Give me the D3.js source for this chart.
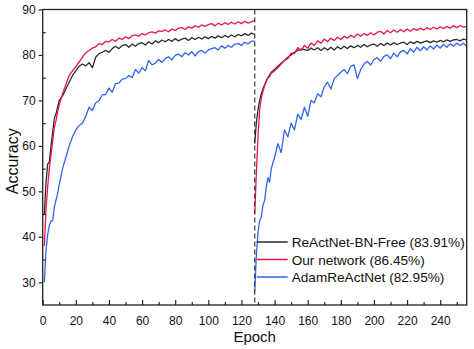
<!DOCTYPE html>
<html>
<head>
<meta charset="utf-8">
<script src="https://cdn.jsdelivr.net/npm/d3@7"></script>
<style>
  body { margin: 0; background: #fff; }
  text { font-family: "Liberation Sans", Arial, sans-serif; fill: #111; }
</style>
</head>
<body>
<div id="chart"></div>
<script>
// --------------------
// DATA
// --------------------
const epochsA = [1, 2, 3, 4, 5, 6, 7, 8, 9, 10,
  12, 14, 16, 18, 20, 22, 24, 26, 28, 30,
  32, 34, 36, 38, 40, 42, 44, 46, 48, 50,
  52, 54, 56, 58, 60, 62, 64, 66, 68, 70,
  72, 74, 76, 78, 80, 82, 84, 86, 88, 90,
  92, 94, 96, 98, 100, 102, 104, 106, 108, 110,
  112, 114, 116, 118, 120, 122, 124, 126, 128];

const epochsB = [128, 129, 130, 131, 132, 133, 134, 135, 136, 137, 138,
  140, 142, 144, 146, 148, 150, 152, 154, 156, 158,
  160, 162, 164, 166, 168, 170, 172, 174, 176, 178,
  180, 182, 184, 186, 188, 190, 192, 194, 196, 198,
  200, 202, 204, 206, 208, 210, 212, 214, 216, 218,
  220, 222, 224, 226, 228, 230, 232, 234, 236, 238,
  240, 242, 244, 246, 248, 250, 252, 254, 256];

// ReActNet-BN-Free
const bnFreeA = [45, 52, 56, 56.5, 60, 63, 66, 67, 68.5, 70,
  71, 72.5, 74, 75.5, 76.5, 77.5, 78, 77.6, 78.3, 77.2,
  79.5, 80.3, 80.6, 81, 80.6, 81.4, 81.9, 81.4, 82.1, 82.3,
  81.7, 82.4, 81.9, 82.5, 82.7, 82.2, 82.9, 82.4, 83.1, 82.7,
  83.3, 82.9, 83.4, 83, 83.6, 83.1, 83.5, 83.7, 83.2, 83.8,
  83.4, 83.9, 83.5, 84, 83.6, 84.1, 83.7, 84.2, 83.8, 84.3,
  83.9, 84.4, 84, 84.5, 84.2, 84.7, 84.3, 84.8, 84.5];
const bnFreeB = [60.5, 65, 68, 70, 71.5, 72.5, 73.5, 74.3, 75, 75.6, 76.2,
  76.8, 77.5, 78.2, 78.8, 79.5, 80, 80.6, 81, 81.3, 81.2,
  81, 81.5, 81.1, 81.6, 81, 81.6, 81.1, 81.7, 81.1, 81.8,
  81.3, 81.9, 81.4, 82, 81.6, 82.1, 81.7, 82.3, 81.8, 82.2,
  82.4, 81.9, 82.5, 82.1, 82.6, 82.2, 82.7, 82.3, 82.6, 82.8,
  82.3, 82.9, 82.5, 83, 82.6, 82.9, 83.1, 82.7, 83.1, 82.8,
  83.2, 82.9, 83.3, 83, 83.3, 83.4, 83.1, 83.5, 83.3];

// Our network
const oursA = [38, 46, 51, 55, 58, 61, 64, 65.5, 67.5, 69,
  71.5, 73.5, 75.5, 76.5, 77.4, 78.5, 79.5, 80.5, 81, 81.5,
  81.8, 82.5, 82.3, 83, 82.9, 83.4, 83, 83.7, 83.4, 84,
  83.6, 84.2, 84.4, 84.1, 84.7, 84.4, 84.9, 85.1, 84.8, 85.3,
  85.2, 85.5, 85.1, 85.7, 85.4, 85.9, 86, 85.6, 86.2, 85.9,
  86.4, 86.1, 86.6, 86.3, 86.7, 86.9, 86.4, 87, 86.6, 87.1,
  86.7, 87.2, 86.8, 87.3, 86.9, 87.4, 87, 87.3, 87.6];
const oursB = [45, 54, 62, 68, 70.5, 72, 73.2, 74.2, 75, 75.2, 76,
  76.5, 77.2, 78, 78.8, 79.2, 80.4, 80.3, 81.6, 81, 82.1,
  81.5, 82.6, 82.1, 83.1, 82.6, 83.5, 82.9, 83.7, 83.2, 83.9,
  83.4, 84.1, 83.7, 84.3, 83.9, 84.6, 84.1, 84.7, 84.3, 84.9,
  84.4, 85, 85.2, 84.6, 85.4, 84.9, 85.5, 85, 85.6, 85.1,
  85.7, 85.2, 85.8, 85.4, 85.9, 85.5, 86, 85.6, 86.1, 85.7,
  86.2, 85.8, 86.3, 85.9, 86.4, 86, 86.5, 86.1, 86.3];

// AdamReActNet
const adamA = [30, 37, 40.5, 42.5, 43.5, 43.5, 46.5, 48, 49.5, 51.5,
  55, 57.5, 60, 62, 63.5, 64.5, 65, 66.5, 68.5, 67.8,
  69.5, 70, 71.2, 71.3, 72.7, 71.8, 73.7, 73.8, 74.7, 74.8,
  75.5, 75, 76.8, 76, 77.2, 76.5, 78.8, 77.8, 78.2, 79,
  78.4, 79.2, 79.6, 78.9, 79.9, 80.2, 79.6, 80.5, 80, 80.7,
  79.8, 80.7, 81, 80.4, 81.1, 81.4, 81.6, 81.1, 82, 81.5,
  82.1, 81.7, 82.4, 82.5, 82.1, 82.8, 82.4, 83, 83.1];
const adamB = [28, 36, 41, 43.5, 44.5, 47, 48, 51, 53, 52, 55,
  57.5, 60.5, 58.5, 63.5, 62, 65, 63.5, 67, 65.8, 68.5,
  66.5, 70, 69.5, 71.5, 70.8, 73, 74, 72.5, 74.8, 75.5,
  76.2, 76.8, 75.9, 77.5, 77.8, 74.8, 76.8, 78, 78.6, 77.8,
  79, 79.4, 78.6, 79.7, 80, 79.2, 80.4, 79.6, 80.7, 81,
  80.2, 81.4, 80.6, 81.7, 80.9, 81.8, 81.1, 82, 81.3, 82.2,
  81.5, 82.3, 81.7, 82.5, 81.9, 82.6, 82.1, 82.6, 81.9];

const seriesNames = ["ReActNet-BN-Free (83.91%)", "Our network (86.45%)", "AdamReActNet (82.95%)"];
const seriesColors = ["#2b2b2b", "#e8164b", "#2f66ea"];

const xTicks = [0, 20, 40, 60, 80, 100, 120, 140, 160, 180, 200, 220, 240];
const yTicks = [30, 40, 50, 60, 70, 80, 90];
const restartEpoch = 128;


// --------------------
// CHART
// --------------------
const width = 474;
const height = 349;
const margin = { top: 9.5, right: 7.3, bottom: 44, left: 42.7 };

const svg = d3.select("#chart")
  .append("svg")
  .attr("width", width)
  .attr("height", height);

const x = d3.scaleLinear()
  .domain([0, 256])
  .range([margin.left, width - margin.right]);

const y = d3.scaleLinear()
  .domain([25, 90])
  .range([height - margin.bottom, margin.top]);

svg.append("defs").append("clipPath")
  .attr("id", "plot")
  .append("rect")
  .attr("x", x(0))
  .attr("y", y(90))
  .attr("width", x(256) - x(0))
  .attr("height", y(25) - y(90));

// curves
const runs = [
  [bnFreeA, bnFreeB],
  [oursA, oursB],
  [adamA, adamB]
];

const line = d3.line()
  .x(d => x(d[0]))
  .y(d => y(d[1]));

const curves = svg.append("g").attr("clip-path", "url(#plot)");

runs.forEach((pair, i) => {
  [[epochsA, pair[0]], [epochsB, pair[1]]].forEach(([ep, vals]) => {
    curves.append("path")
      .datum(d3.zip(ep, vals))
      .attr("fill", "none")
      .attr("stroke", seriesColors[i])
      .attr("stroke-width", 1.3)
      .attr("stroke-linejoin", "round")
      .attr("d", line);
  });
});

// restart marker
svg.append("line")
  .attr("x1", x(restartEpoch))
  .attr("x2", x(restartEpoch))
  .attr("y1", y(90))
  .attr("y2", y(25))
  .attr("stroke", "#333")
  .attr("stroke-width", 1.2)
  .attr("stroke-dasharray", "5,3");

// Axes
svg.append("g")
  .attr("transform", `translate(0,${y(25)})`)
  .call(d3.axisBottom(x).tickValues(xTicks).tickSize(-5).tickPadding(11));

svg.append("g")
  .attr("transform", `translate(0,${y(25)})`)
  .call(d3.axisBottom(x).tickValues(d3.range(10, 256, 20)).tickSize(-3).tickFormat(""));

svg.append("g")
  .attr("transform", `translate(${x(0)},0)`)
  .call(d3.axisLeft(y).tickValues(yTicks).tickSize(4).tickPadding(3));

svg.append("g")
  .attr("transform", `translate(${x(0)},0)`)
  .call(d3.axisLeft(y).tickValues(d3.range(35, 90, 10)).tickSize(-3).tickFormat(""));

svg.selectAll(".domain").remove();
svg.selectAll(".tick line").attr("stroke", "#222").attr("stroke-width", 1.2);
svg.selectAll(".tick text")
  .style("font-size", "12px")
  .style("font-family", "'Liberation Sans', Arial, sans-serif")
  .attr("fill", "#111");

// frame
svg.append("rect")
  .attr("x", x(0))
  .attr("y", y(90))
  .attr("width", x(256) - x(0))
  .attr("height", y(25) - y(90))
  .attr("fill", "none")
  .attr("stroke", "#222")
  .attr("stroke-width", 1.3);

// axis titles
svg.append("text")
  .attr("x", (x(0) + x(256)) / 2)
  .attr("y", 342)
  .attr("text-anchor", "middle")
  .style("font-size", "15px")
  .text("Epoch");

svg.append("text")
  .attr("transform", `translate(18,${(y(25) + y(90)) / 2 + 4}) rotate(-90)`)
  .attr("text-anchor", "middle")
  .style("font-size", "16px")
  .text("Accuracy");

// legend
const legend = svg.append("g")
  .attr("transform", `translate(${x(128) + 2},242)`);

seriesNames.forEach((name, i) => {
  const row = legend.append("g").attr("transform", `translate(0,${i * 17.5})`);
  row.append("line")
    .attr("x1", 0).attr("x2", 31)
    .attr("stroke", seriesColors[i])
    .attr("stroke-width", 1.5);
  row.append("text")
    .attr("x", 35)
    .attr("y", 5)
    .style("font-size", "13.6px")
    .text(name);
});
</script>
</body>
</html>
